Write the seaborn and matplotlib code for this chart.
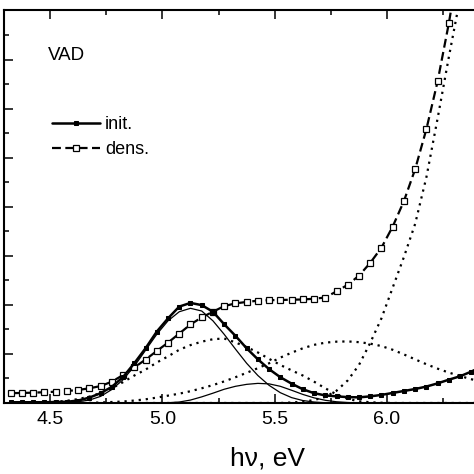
import matplotlib
matplotlib.use("Agg")
import matplotlib.pyplot as plt
from matplotlib.ticker import MultipleLocator
import seaborn as sns

# photon energy grid, eV (one point per marker)
x_ev = [4.325, 4.375, 4.425, 4.475, 4.525, 4.575, 4.625, 4.675, 4.725, 4.775,
        4.825, 4.875, 4.925, 4.975, 5.025, 5.075, 5.125, 5.175, 5.225, 5.275,
        5.325, 5.375, 5.425, 5.475, 5.525, 5.575, 5.625, 5.675, 5.725, 5.775,
        5.825, 5.875, 5.925, 5.975, 6.025, 6.075, 6.125, 6.175, 6.225, 6.275,
        6.325, 6.375, 6.425]

# measured spectra (arb. units)
init = [0.03, 0.03, 0.03, 0.03, 0.04, 0.05, 0.10, 0.22, 0.40, 0.66,
        1.06, 1.62, 2.23, 2.91, 3.45, 3.93, 4.08, 3.99, 3.72, 3.21,
        2.74, 2.23, 1.78, 1.38, 1.05, 0.79, 0.56, 0.40, 0.31, 0.27,
        0.24, 0.23, 0.27, 0.33, 0.41, 0.49, 0.57, 0.67, 0.80, 0.95,
        1.09, 1.28, 1.50]
dens = [0.40, 0.41, 0.42, 0.44, 0.46, 0.49, 0.53, 0.60, 0.69, 0.87,
        1.14, 1.45, 1.77, 2.12, 2.46, 2.83, 3.20, 3.49, 3.72, 3.95,
        4.06, 4.12, 4.17, 4.19, 4.20, 4.21, 4.22, 4.25, 4.30, 4.55,
        4.82, 5.19, 5.71, 6.33, 7.19, 8.23, 9.53, 11.16, 13.11, 15.48,
        18.2, 21.3, 24.8]

# fitted components of init. (thin solid)
init_b1 = [0, 0, 0, 0, 0, 0, 0.05, 0.12, 0.27, 0.55,
           0.95, 1.50, 2.15, 2.80, 3.35, 3.72, 3.86, 3.75, 3.35, 2.80,
           2.20, 1.62, 1.12, 0.72, 0.42, 0.22, 0.10, 0.04, 0.01, 0,
           0, 0, 0, 0, 0, 0, 0, 0, 0, 0,
           0, 0, 0]
init_b2 = [0, 0, 0, 0, 0, 0, 0, 0, 0, 0,
           0, 0, 0, 0, 0.01, 0.04, 0.12, 0.25, 0.40, 0.56,
           0.68, 0.76, 0.80, 0.78, 0.68, 0.52, 0.35, 0.21, 0.11, 0.05,
           0.02, 0, 0, 0, 0, 0, 0, 0, 0, 0,
           0, 0, 0]

# fitted components of dens. (dotted)
dens_b1 = [0, 0.01, 0.02, 0.03, 0.05, 0.09, 0.16, 0.26, 0.40, 0.60,
           0.85, 1.12, 1.36, 1.65, 1.90, 2.17, 2.36, 2.50, 2.60, 2.63,
           2.47, 2.28, 2.06, 1.80, 1.55, 1.33, 1.12, 0.87, 0.60, 0.35,
           0.17, 0.07, 0.03, 0.01, 0, 0, 0, 0, 0, 0,
           0, 0, 0]
dens_b2 = [0, 0, 0, 0, 0, 0, 0, 0, 0.02, 0.04,
           0.06, 0.10, 0.15, 0.22, 0.30, 0.38, 0.48, 0.60, 0.73, 0.88,
           1.05, 1.23, 1.42, 1.62, 1.85, 2.05, 2.23, 2.37, 2.46, 2.50,
           2.51, 2.48, 2.42, 2.32, 2.17, 1.98, 1.78, 1.58, 1.40, 1.24,
           1.10, 0.97, 0.85]
dens_edge = [0, 0, 0, 0, 0, 0, 0, 0, 0, 0,
             0, 0, 0, 0, 0, 0, 0, 0, 0, 0,
             0, 0, 0, 0, 0, 0.02, 0.05, 0.12, 0.25, 0.50,
             0.92, 1.55, 2.45, 3.45, 4.70, 5.95, 7.30, 9.20, 11.6, 14.1,
             16.5, 19.0, 21.5]

sns.set_theme(style="ticks")
plt.rcParams["font.family"] = ["Liberation Sans", "DejaVu Sans"]
plt.rcParams["text.color"] = "black"
plt.rcParams["axes.labelcolor"] = "black"
plt.rcParams["xtick.color"] = "black"
plt.rcParams["ytick.color"] = "black"

fig = plt.figure(figsize=(4.74, 4.74), dpi=100)
ax = fig.add_axes([4 / 474, 71 / 474, 470 / 474, 393 / 474])

dot = (0, (1, 2.2))
for comp in [dens_b1, dens_b2, dens_edge]:
    sns.lineplot(x=x_ev, y=comp, ax=ax, color="black", lw=1.6,
                 linestyle=dot, legend=False)
for comp in [init_b1, init_b2]:
    sns.lineplot(x=x_ev, y=comp, ax=ax, color="black", lw=0.9, legend=False)

sns.lineplot(x=x_ev, y=dens, ax=ax, color="black", lw=1.6,
             linestyle=(0, (4, 2)), marker="s", markersize=3.7,
             markerfacecolor="white", markeredgecolor="black",
             markeredgewidth=0.9, legend=False)
sns.lineplot(x=x_ev, y=init, ax=ax, color="black", lw=1.8,
             marker="s", markersize=3.3, markerfacecolor="black",
             markeredgecolor="black", legend=False)

lines = ax.get_lines()
ax.legend([lines[-1], lines[-2]], ["init.", "dens."], loc="upper left",
          bbox_to_anchor=(0.102, 0.73), frameon=False, fontsize=13,
          handlelength=2.65, handletextpad=0.3, labelspacing=0.45,
          borderpad=0, borderaxespad=0, numpoints=1)

ax.text(0.094, 0.883, "VAD", transform=ax.transAxes, fontsize=13.5,
        va="center", ha="left")

ax.set_xlim(4.295, 6.387)
ax.set_ylim(0, 16.02)
ax.xaxis.set_major_locator(MultipleLocator(0.5))
ax.xaxis.set_minor_locator(MultipleLocator(0.25))
ax.yaxis.set_major_locator(MultipleLocator(2))
ax.yaxis.set_minor_locator(MultipleLocator(1))
ax.tick_params(which="both", direction="in", top=True, right=False,
               labelleft=False, width=1.1, color="black", labelcolor="black")
ax.tick_params(which="major", length=6.5, labelsize=14, pad=6)
ax.tick_params(which="minor", length=3.5)
ax.spines["right"].set_visible(False)
for s in ["left", "top", "bottom"]:
    ax.spines[s].set_linewidth(1.5)
    ax.spines[s].set_color("black")

ax.set_xlabel("h\u03bd, eV", fontsize=19)
ax.xaxis.set_label_coords((268 - 4) / 470, -0.11)
ax.set_ylabel("")

fig.savefig("out.png", dpi=100)
